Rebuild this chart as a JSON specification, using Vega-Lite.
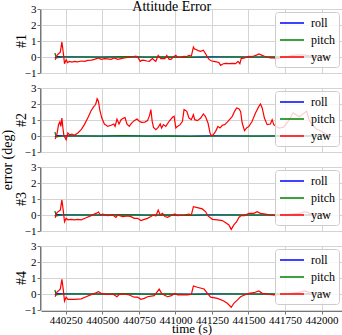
{
"$schema": "https://vega.github.io/schema/vega-lite/v6.json",
"padding": {"left": 0, "top": 0, "right": 1, "bottom": 0},
"title": {"text": "Attitude Error", "fontSize": 14, "font": "Liberation Serif", "fontWeight": "normal", "offset": -11, "anchor": "middle", "color": "#000"},
"data": {"values": [
{"p":"#1","s":"roll","t":440175,"v":-0.05},{"p":"#1","s":"roll","t":440185,"v":0.02},{"p":"#1","s":"roll","t":440230,"v":0.01},{"p":"#1","s":"roll","t":440350,"v":0.0},{"p":"#1","s":"roll","t":440500,"v":0.0},{"p":"#1","s":"roll","t":440650,"v":0.01},{"p":"#1","s":"roll","t":440800,"v":0.0},{"p":"#1","s":"roll","t":440950,"v":0.0},{"p":"#1","s":"roll","t":441100,"v":-0.01},{"p":"#1","s":"roll","t":441250,"v":0.01},{"p":"#1","s":"roll","t":441400,"v":0.0},{"p":"#1","s":"roll","t":441550,"v":0.0},{"p":"#1","s":"roll","t":441700,"v":0.0},{"p":"#1","s":"roll","t":441850,"v":0.01},{"p":"#1","s":"roll","t":442060,"v":0.0},
{"p":"#2","s":"roll","t":440175,"v":-0.05},{"p":"#2","s":"roll","t":440185,"v":0.02},{"p":"#2","s":"roll","t":440230,"v":0.01},{"p":"#2","s":"roll","t":440350,"v":0.0},{"p":"#2","s":"roll","t":440500,"v":0.0},{"p":"#2","s":"roll","t":440650,"v":0.01},{"p":"#2","s":"roll","t":440800,"v":0.0},{"p":"#2","s":"roll","t":440950,"v":0.0},{"p":"#2","s":"roll","t":441100,"v":-0.01},{"p":"#2","s":"roll","t":441250,"v":0.01},{"p":"#2","s":"roll","t":441400,"v":0.0},{"p":"#2","s":"roll","t":441550,"v":0.0},{"p":"#2","s":"roll","t":441700,"v":0.0},{"p":"#2","s":"roll","t":441850,"v":0.01},{"p":"#2","s":"roll","t":442060,"v":0.0},
{"p":"#3","s":"roll","t":440175,"v":-0.05},{"p":"#3","s":"roll","t":440185,"v":0.02},{"p":"#3","s":"roll","t":440230,"v":0.01},{"p":"#3","s":"roll","t":440350,"v":0.0},{"p":"#3","s":"roll","t":440500,"v":0.0},{"p":"#3","s":"roll","t":440650,"v":0.01},{"p":"#3","s":"roll","t":440800,"v":0.0},{"p":"#3","s":"roll","t":440950,"v":0.0},{"p":"#3","s":"roll","t":441100,"v":-0.01},{"p":"#3","s":"roll","t":441250,"v":0.01},{"p":"#3","s":"roll","t":441400,"v":0.0},{"p":"#3","s":"roll","t":441550,"v":0.0},{"p":"#3","s":"roll","t":441700,"v":0.0},{"p":"#3","s":"roll","t":441850,"v":0.01},{"p":"#3","s":"roll","t":442060,"v":0.0},
{"p":"#4","s":"roll","t":440175,"v":-0.05},{"p":"#4","s":"roll","t":440185,"v":0.02},{"p":"#4","s":"roll","t":440230,"v":0.01},{"p":"#4","s":"roll","t":440350,"v":0.0},{"p":"#4","s":"roll","t":440500,"v":0.0},{"p":"#4","s":"roll","t":440650,"v":0.01},{"p":"#4","s":"roll","t":440800,"v":0.0},{"p":"#4","s":"roll","t":440950,"v":0.0},{"p":"#4","s":"roll","t":441100,"v":-0.01},{"p":"#4","s":"roll","t":441250,"v":0.01},{"p":"#4","s":"roll","t":441400,"v":0.0},{"p":"#4","s":"roll","t":441550,"v":0.0},{"p":"#4","s":"roll","t":441700,"v":0.0},{"p":"#4","s":"roll","t":441850,"v":0.01},{"p":"#4","s":"roll","t":442060,"v":0.0},
{"p":"#1","s":"pitch","t":440175,"v":0.25},{"p":"#1","s":"pitch","t":440185,"v":-0.05},{"p":"#1","s":"pitch","t":440230,"v":0.0},{"p":"#1","s":"pitch","t":440350,"v":0.01},{"p":"#1","s":"pitch","t":440500,"v":-0.01},{"p":"#1","s":"pitch","t":440650,"v":0.02},{"p":"#1","s":"pitch","t":440800,"v":-0.01},{"p":"#1","s":"pitch","t":440950,"v":0.01},{"p":"#1","s":"pitch","t":441100,"v":-0.02},{"p":"#1","s":"pitch","t":441250,"v":0.0},{"p":"#1","s":"pitch","t":441400,"v":0.01},{"p":"#1","s":"pitch","t":441550,"v":-0.01},{"p":"#1","s":"pitch","t":441700,"v":0.01},{"p":"#1","s":"pitch","t":441850,"v":0.0},{"p":"#1","s":"pitch","t":442060,"v":-0.01},
{"p":"#2","s":"pitch","t":440175,"v":0.25},{"p":"#2","s":"pitch","t":440185,"v":-0.05},{"p":"#2","s":"pitch","t":440230,"v":0.0},{"p":"#2","s":"pitch","t":440350,"v":0.01},{"p":"#2","s":"pitch","t":440500,"v":-0.01},{"p":"#2","s":"pitch","t":440650,"v":0.02},{"p":"#2","s":"pitch","t":440800,"v":-0.01},{"p":"#2","s":"pitch","t":440950,"v":0.01},{"p":"#2","s":"pitch","t":441100,"v":-0.02},{"p":"#2","s":"pitch","t":441250,"v":0.0},{"p":"#2","s":"pitch","t":441400,"v":0.01},{"p":"#2","s":"pitch","t":441550,"v":-0.01},{"p":"#2","s":"pitch","t":441700,"v":0.01},{"p":"#2","s":"pitch","t":441850,"v":0.0},{"p":"#2","s":"pitch","t":442060,"v":-0.01},
{"p":"#3","s":"pitch","t":440175,"v":0.25},{"p":"#3","s":"pitch","t":440185,"v":-0.05},{"p":"#3","s":"pitch","t":440230,"v":0.0},{"p":"#3","s":"pitch","t":440350,"v":0.01},{"p":"#3","s":"pitch","t":440500,"v":-0.01},{"p":"#3","s":"pitch","t":440650,"v":0.02},{"p":"#3","s":"pitch","t":440800,"v":-0.01},{"p":"#3","s":"pitch","t":440950,"v":0.01},{"p":"#3","s":"pitch","t":441100,"v":-0.02},{"p":"#3","s":"pitch","t":441250,"v":0.0},{"p":"#3","s":"pitch","t":441400,"v":0.01},{"p":"#3","s":"pitch","t":441550,"v":-0.01},{"p":"#3","s":"pitch","t":441700,"v":0.01},{"p":"#3","s":"pitch","t":441850,"v":0.0},{"p":"#3","s":"pitch","t":442060,"v":-0.01},
{"p":"#4","s":"pitch","t":440175,"v":0.25},{"p":"#4","s":"pitch","t":440185,"v":-0.05},{"p":"#4","s":"pitch","t":440230,"v":0.0},{"p":"#4","s":"pitch","t":440350,"v":0.01},{"p":"#4","s":"pitch","t":440500,"v":-0.01},{"p":"#4","s":"pitch","t":440650,"v":0.02},{"p":"#4","s":"pitch","t":440800,"v":-0.01},{"p":"#4","s":"pitch","t":440950,"v":0.01},{"p":"#4","s":"pitch","t":441100,"v":-0.02},{"p":"#4","s":"pitch","t":441250,"v":0.0},{"p":"#4","s":"pitch","t":441400,"v":0.01},{"p":"#4","s":"pitch","t":441550,"v":-0.01},{"p":"#4","s":"pitch","t":441700,"v":0.01},{"p":"#4","s":"pitch","t":441850,"v":0.0},{"p":"#4","s":"pitch","t":442060,"v":-0.01},
{"p":"#1","s":"yaw","t":440177,"v":-0.17},{"p":"#1","s":"yaw","t":440189,"v":0.1},{"p":"#1","s":"yaw","t":440200,"v":0.2},{"p":"#1","s":"yaw","t":440212,"v":0.3},{"p":"#1","s":"yaw","t":440223,"v":0.94},{"p":"#1","s":"yaw","t":440232,"v":0.3},{"p":"#1","s":"yaw","t":440241,"v":-0.42},{"p":"#1","s":"yaw","t":440252,"v":-0.17},{"p":"#1","s":"yaw","t":440262,"v":-0.35},{"p":"#1","s":"yaw","t":440275,"v":-0.27},{"p":"#1","s":"yaw","t":440292,"v":-0.32},{"p":"#1","s":"yaw","t":440309,"v":-0.27},{"p":"#1","s":"yaw","t":440330,"v":-0.3},{"p":"#1","s":"yaw","t":440355,"v":-0.25},{"p":"#1","s":"yaw","t":440378,"v":-0.27},{"p":"#1","s":"yaw","t":440400,"v":-0.21},{"p":"#1","s":"yaw","t":440425,"v":-0.2},{"p":"#1","s":"yaw","t":440446,"v":-0.15},{"p":"#1","s":"yaw","t":440473,"v":-0.06},{"p":"#1","s":"yaw","t":440491,"v":-0.15},{"p":"#1","s":"yaw","t":440514,"v":-0.1},{"p":"#1","s":"yaw","t":440535,"v":-0.12},{"p":"#1","s":"yaw","t":440559,"v":-0.15},{"p":"#1","s":"yaw","t":440582,"v":-0.06},{"p":"#1","s":"yaw","t":440605,"v":-0.15},{"p":"#1","s":"yaw","t":440628,"v":-0.1},{"p":"#1","s":"yaw","t":440650,"v":-0.06},{"p":"#1","s":"yaw","t":440673,"v":-0.03},{"p":"#1","s":"yaw","t":440696,"v":0.0},{"p":"#1","s":"yaw","t":440730,"v":0.06},{"p":"#1","s":"yaw","t":440746,"v":-0.06},{"p":"#1","s":"yaw","t":440759,"v":-0.27},{"p":"#1","s":"yaw","t":440772,"v":-0.2},{"p":"#1","s":"yaw","t":440787,"v":-0.21},{"p":"#1","s":"yaw","t":440805,"v":-0.25},{"p":"#1","s":"yaw","t":440821,"v":-0.27},{"p":"#1","s":"yaw","t":440843,"v":-0.1},{"p":"#1","s":"yaw","t":440855,"v":-0.2},{"p":"#1","s":"yaw","t":440866,"v":-0.27},{"p":"#1","s":"yaw","t":440882,"v":0.1},{"p":"#1","s":"yaw","t":440900,"v":-0.1},{"p":"#1","s":"yaw","t":440928,"v":-0.1},{"p":"#1","s":"yaw","t":440941,"v":0.1},{"p":"#1","s":"yaw","t":440957,"v":-0.15},{"p":"#1","s":"yaw","t":440969,"v":-0.15},{"p":"#1","s":"yaw","t":440985,"v":0.0},{"p":"#1","s":"yaw","t":441003,"v":0.1},{"p":"#1","s":"yaw","t":441014,"v":-0.02},{"p":"#1","s":"yaw","t":441035,"v":0.0},{"p":"#1","s":"yaw","t":441059,"v":0.04},{"p":"#1","s":"yaw","t":441075,"v":0.02},{"p":"#1","s":"yaw","t":441093,"v":0.1},{"p":"#1","s":"yaw","t":441109,"v":0.06},{"p":"#1","s":"yaw","t":441123,"v":0.62},{"p":"#1","s":"yaw","t":441131,"v":0.5},{"p":"#1","s":"yaw","t":441139,"v":0.48},{"p":"#1","s":"yaw","t":441155,"v":0.4},{"p":"#1","s":"yaw","t":441173,"v":0.35},{"p":"#1","s":"yaw","t":441191,"v":0.42},{"p":"#1","s":"yaw","t":441207,"v":0.2},{"p":"#1","s":"yaw","t":441218,"v":0.0},{"p":"#1","s":"yaw","t":441230,"v":-0.15},{"p":"#1","s":"yaw","t":441248,"v":-0.25},{"p":"#1","s":"yaw","t":441264,"v":-0.27},{"p":"#1","s":"yaw","t":441280,"v":-0.3},{"p":"#1","s":"yaw","t":441298,"v":-0.35},{"p":"#1","s":"yaw","t":441309,"v":-0.52},{"p":"#1","s":"yaw","t":441328,"v":-0.42},{"p":"#1","s":"yaw","t":441345,"v":-0.4},{"p":"#1","s":"yaw","t":441366,"v":-0.42},{"p":"#1","s":"yaw","t":441390,"v":-0.4},{"p":"#1","s":"yaw","t":441412,"v":-0.42},{"p":"#1","s":"yaw","t":441428,"v":-0.27},{"p":"#1","s":"yaw","t":441441,"v":-0.42},{"p":"#1","s":"yaw","t":441450,"v":-0.1},{"p":"#1","s":"yaw","t":441473,"v":-0.06},{"p":"#1","s":"yaw","t":441488,"v":0.0},{"p":"#1","s":"yaw","t":441503,"v":0.04},{"p":"#1","s":"yaw","t":441520,"v":0.02},{"p":"#1","s":"yaw","t":441537,"v":0.06},{"p":"#1","s":"yaw","t":441555,"v":0.12},{"p":"#1","s":"yaw","t":441571,"v":0.19},{"p":"#1","s":"yaw","t":441594,"v":0.1},{"p":"#1","s":"yaw","t":441610,"v":0.05},{"p":"#1","s":"yaw","t":441628,"v":0.0},{"p":"#1","s":"yaw","t":441650,"v":-0.05},{"p":"#1","s":"yaw","t":441673,"v":-0.06},{"p":"#1","s":"yaw","t":441700,"v":-0.1},{"p":"#1","s":"yaw","t":441730,"v":-0.02},{"p":"#1","s":"yaw","t":441760,"v":0.0},{"p":"#1","s":"yaw","t":441800,"v":0.1},{"p":"#1","s":"yaw","t":441850,"v":0.14},{"p":"#1","s":"yaw","t":441900,"v":0.1},{"p":"#1","s":"yaw","t":441950,"v":0.02},{"p":"#1","s":"yaw","t":442000,"v":-0.05},{"p":"#1","s":"yaw","t":442060,"v":-0.04},
{"p":"#2","s":"yaw","t":440177,"v":-0.19},{"p":"#2","s":"yaw","t":440189,"v":0.12},{"p":"#2","s":"yaw","t":440200,"v":0.7},{"p":"#2","s":"yaw","t":440209,"v":0.88},{"p":"#2","s":"yaw","t":440216,"v":0.6},{"p":"#2","s":"yaw","t":440223,"v":1.12},{"p":"#2","s":"yaw","t":440230,"v":0.5},{"p":"#2","s":"yaw","t":440237,"v":0.0},{"p":"#2","s":"yaw","t":440246,"v":-0.12},{"p":"#2","s":"yaw","t":440252,"v":-0.23},{"p":"#2","s":"yaw","t":440264,"v":0.19},{"p":"#2","s":"yaw","t":440275,"v":0.08},{"p":"#2","s":"yaw","t":440291,"v":0.12},{"p":"#2","s":"yaw","t":440309,"v":0.04},{"p":"#2","s":"yaw","t":440332,"v":0.19},{"p":"#2","s":"yaw","t":440355,"v":0.4},{"p":"#2","s":"yaw","t":440377,"v":0.71},{"p":"#2","s":"yaw","t":440400,"v":1.12},{"p":"#2","s":"yaw","t":440423,"v":1.58},{"p":"#2","s":"yaw","t":440441,"v":1.83},{"p":"#2","s":"yaw","t":440450,"v":1.92},{"p":"#2","s":"yaw","t":440457,"v":2.06},{"p":"#2","s":"yaw","t":440464,"v":2.33},{"p":"#2","s":"yaw","t":440473,"v":2.17},{"p":"#2","s":"yaw","t":440482,"v":1.65},{"p":"#2","s":"yaw","t":440496,"v":1.12},{"p":"#2","s":"yaw","t":440514,"v":0.75},{"p":"#2","s":"yaw","t":440537,"v":0.6},{"p":"#2","s":"yaw","t":440559,"v":0.67},{"p":"#2","s":"yaw","t":440578,"v":0.75},{"p":"#2","s":"yaw","t":440587,"v":0.6},{"p":"#2","s":"yaw","t":440600,"v":1.06},{"p":"#2","s":"yaw","t":440614,"v":0.75},{"p":"#2","s":"yaw","t":440628,"v":1.02},{"p":"#2","s":"yaw","t":440646,"v":1.12},{"p":"#2","s":"yaw","t":440655,"v":1.15},{"p":"#2","s":"yaw","t":440668,"v":0.75},{"p":"#2","s":"yaw","t":440684,"v":0.6},{"p":"#2","s":"yaw","t":440700,"v":0.81},{"p":"#2","s":"yaw","t":440718,"v":0.96},{"p":"#2","s":"yaw","t":440737,"v":1.06},{"p":"#2","s":"yaw","t":440753,"v":0.92},{"p":"#2","s":"yaw","t":440768,"v":0.85},{"p":"#2","s":"yaw","t":440791,"v":0.87},{"p":"#2","s":"yaw","t":440809,"v":0.96},{"p":"#2","s":"yaw","t":440823,"v":1.29},{"p":"#2","s":"yaw","t":440832,"v":1.65},{"p":"#2","s":"yaw","t":440841,"v":0.92},{"p":"#2","s":"yaw","t":440850,"v":0.54},{"p":"#2","s":"yaw","t":440866,"v":0.4},{"p":"#2","s":"yaw","t":440882,"v":0.54},{"p":"#2","s":"yaw","t":440896,"v":0.75},{"p":"#2","s":"yaw","t":440905,"v":0.5},{"p":"#2","s":"yaw","t":440918,"v":0.71},{"p":"#2","s":"yaw","t":440934,"v":0.6},{"p":"#2","s":"yaw","t":440957,"v":0.92},{"p":"#2","s":"yaw","t":440980,"v":1.17},{"p":"#2","s":"yaw","t":440991,"v":1.23},{"p":"#2","s":"yaw","t":441003,"v":0.5},{"p":"#2","s":"yaw","t":441014,"v":0.6},{"p":"#2","s":"yaw","t":441032,"v":0.71},{"p":"#2","s":"yaw","t":441048,"v":0.92},{"p":"#2","s":"yaw","t":441059,"v":1.65},{"p":"#2","s":"yaw","t":441078,"v":1.54},{"p":"#2","s":"yaw","t":441093,"v":1.12},{"p":"#2","s":"yaw","t":441109,"v":1.02},{"p":"#2","s":"yaw","t":441123,"v":1.33},{"p":"#2","s":"yaw","t":441132,"v":1.02},{"p":"#2","s":"yaw","t":441150,"v":0.96},{"p":"#2","s":"yaw","t":441173,"v":1.12},{"p":"#2","s":"yaw","t":441191,"v":1.38},{"p":"#2","s":"yaw","t":441205,"v":1.23},{"p":"#2","s":"yaw","t":441223,"v":0.81},{"p":"#2","s":"yaw","t":441237,"v":0.19},{"p":"#2","s":"yaw","t":441246,"v":0.02},{"p":"#2","s":"yaw","t":441259,"v":0.08},{"p":"#2","s":"yaw","t":441275,"v":0.29},{"p":"#2","s":"yaw","t":441291,"v":0.6},{"p":"#2","s":"yaw","t":441305,"v":0.5},{"p":"#2","s":"yaw","t":441321,"v":0.67},{"p":"#2","s":"yaw","t":441337,"v":0.71},{"p":"#2","s":"yaw","t":441355,"v":0.87},{"p":"#2","s":"yaw","t":441373,"v":1.06},{"p":"#2","s":"yaw","t":441389,"v":1.23},{"p":"#2","s":"yaw","t":441405,"v":1.54},{"p":"#2","s":"yaw","t":441419,"v":1.75},{"p":"#2","s":"yaw","t":441434,"v":1.71},{"p":"#2","s":"yaw","t":441446,"v":1.54},{"p":"#2","s":"yaw","t":441457,"v":0.81},{"p":"#2","s":"yaw","t":441473,"v":0.33},{"p":"#2","s":"yaw","t":441487,"v":0.5},{"p":"#2","s":"yaw","t":441503,"v":0.6},{"p":"#2","s":"yaw","t":441525,"v":0.92},{"p":"#2","s":"yaw","t":441548,"v":1.44},{"p":"#2","s":"yaw","t":441571,"v":1.85},{"p":"#2","s":"yaw","t":441582,"v":2.0},{"p":"#2","s":"yaw","t":441594,"v":1.75},{"p":"#2","s":"yaw","t":441609,"v":1.12},{"p":"#2","s":"yaw","t":441628,"v":0.71},{"p":"#2","s":"yaw","t":441650,"v":0.75},{"p":"#2","s":"yaw","t":441662,"v":1.02},{"p":"#2","s":"yaw","t":441673,"v":0.71},{"p":"#2","s":"yaw","t":441691,"v":0.6},{"p":"#2","s":"yaw","t":441710,"v":0.5},{"p":"#2","s":"yaw","t":441740,"v":0.55},{"p":"#2","s":"yaw","t":441770,"v":0.9},{"p":"#2","s":"yaw","t":441790,"v":1.2},{"p":"#2","s":"yaw","t":441805,"v":1.45},{"p":"#2","s":"yaw","t":441830,"v":1.3},{"p":"#2","s":"yaw","t":441850,"v":1.2},{"p":"#2","s":"yaw","t":441875,"v":1.4},{"p":"#2","s":"yaw","t":441898,"v":1.55},{"p":"#2","s":"yaw","t":441915,"v":1.0},{"p":"#2","s":"yaw","t":441935,"v":0.7},{"p":"#2","s":"yaw","t":441966,"v":0.42},{"p":"#2","s":"yaw","t":442000,"v":0.3},{"p":"#2","s":"yaw","t":442034,"v":0.1},{"p":"#2","s":"yaw","t":442060,"v":0.05},
{"p":"#3","s":"yaw","t":440177,"v":-0.17},{"p":"#3","s":"yaw","t":440189,"v":0.15},{"p":"#3","s":"yaw","t":440212,"v":0.3},{"p":"#3","s":"yaw","t":440223,"v":0.94},{"p":"#3","s":"yaw","t":440232,"v":0.3},{"p":"#3","s":"yaw","t":440241,"v":-0.42},{"p":"#3","s":"yaw","t":440252,"v":-0.2},{"p":"#3","s":"yaw","t":440264,"v":-0.3},{"p":"#3","s":"yaw","t":440287,"v":-0.27},{"p":"#3","s":"yaw","t":440309,"v":-0.3},{"p":"#3","s":"yaw","t":440332,"v":-0.27},{"p":"#3","s":"yaw","t":440355,"v":-0.3},{"p":"#3","s":"yaw","t":440389,"v":-0.17},{"p":"#3","s":"yaw","t":440423,"v":-0.04},{"p":"#3","s":"yaw","t":440457,"v":0.1},{"p":"#3","s":"yaw","t":440473,"v":0.19},{"p":"#3","s":"yaw","t":440487,"v":0.0},{"p":"#3","s":"yaw","t":440503,"v":0.06},{"p":"#3","s":"yaw","t":440537,"v":-0.04},{"p":"#3","s":"yaw","t":440571,"v":0.0},{"p":"#3","s":"yaw","t":440593,"v":-0.15},{"p":"#3","s":"yaw","t":440605,"v":0.0},{"p":"#3","s":"yaw","t":440639,"v":-0.1},{"p":"#3","s":"yaw","t":440673,"v":-0.06},{"p":"#3","s":"yaw","t":440696,"v":-0.1},{"p":"#3","s":"yaw","t":440718,"v":-0.21},{"p":"#3","s":"yaw","t":440741,"v":-0.21},{"p":"#3","s":"yaw","t":440764,"v":-0.35},{"p":"#3","s":"yaw","t":440787,"v":-0.27},{"p":"#3","s":"yaw","t":440809,"v":-0.21},{"p":"#3","s":"yaw","t":440832,"v":-0.1},{"p":"#3","s":"yaw","t":440850,"v":0.0},{"p":"#3","s":"yaw","t":440866,"v":-0.06},{"p":"#3","s":"yaw","t":440882,"v":0.31},{"p":"#3","s":"yaw","t":440896,"v":0.0},{"p":"#3","s":"yaw","t":440912,"v":0.1},{"p":"#3","s":"yaw","t":440928,"v":-0.1},{"p":"#3","s":"yaw","t":440946,"v":-0.15},{"p":"#3","s":"yaw","t":440964,"v":-0.06},{"p":"#3","s":"yaw","t":440980,"v":0.0},{"p":"#3","s":"yaw","t":440996,"v":0.06},{"p":"#3","s":"yaw","t":441014,"v":-0.04},{"p":"#3","s":"yaw","t":441059,"v":0.0},{"p":"#3","s":"yaw","t":441093,"v":0.06},{"p":"#3","s":"yaw","t":441109,"v":0.0},{"p":"#3","s":"yaw","t":441123,"v":0.52},{"p":"#3","s":"yaw","t":441150,"v":0.46},{"p":"#3","s":"yaw","t":441184,"v":0.38},{"p":"#3","s":"yaw","t":441207,"v":0.2},{"p":"#3","s":"yaw","t":441223,"v":-0.06},{"p":"#3","s":"yaw","t":441253,"v":-0.27},{"p":"#3","s":"yaw","t":441287,"v":-0.3},{"p":"#3","s":"yaw","t":441321,"v":-0.35},{"p":"#3","s":"yaw","t":441344,"v":-0.48},{"p":"#3","s":"yaw","t":441366,"v":-0.62},{"p":"#3","s":"yaw","t":441382,"v":-0.9},{"p":"#3","s":"yaw","t":441400,"v":-0.62},{"p":"#3","s":"yaw","t":441419,"v":-0.42},{"p":"#3","s":"yaw","t":441434,"v":-0.15},{"p":"#3","s":"yaw","t":441450,"v":-0.04},{"p":"#3","s":"yaw","t":441473,"v":-0.04},{"p":"#3","s":"yaw","t":441503,"v":0.1},{"p":"#3","s":"yaw","t":441537,"v":0.1},{"p":"#3","s":"yaw","t":441559,"v":0.21},{"p":"#3","s":"yaw","t":441582,"v":0.1},{"p":"#3","s":"yaw","t":441616,"v":0.06},{"p":"#3","s":"yaw","t":441650,"v":0.0},{"p":"#3","s":"yaw","t":441684,"v":-0.04},{"p":"#3","s":"yaw","t":441720,"v":-0.02},{"p":"#3","s":"yaw","t":441760,"v":0.02},{"p":"#3","s":"yaw","t":441800,"v":0.05},{"p":"#3","s":"yaw","t":441850,"v":0.1},{"p":"#3","s":"yaw","t":441880,"v":0.2},{"p":"#3","s":"yaw","t":441900,"v":0.18},{"p":"#3","s":"yaw","t":441930,"v":0.05},{"p":"#3","s":"yaw","t":441970,"v":0.0},{"p":"#3","s":"yaw","t":442010,"v":-0.02},{"p":"#3","s":"yaw","t":442060,"v":-0.03},
{"p":"#4","s":"yaw","t":440177,"v":-0.17},{"p":"#4","s":"yaw","t":440189,"v":0.12},{"p":"#4","s":"yaw","t":440212,"v":0.3},{"p":"#4","s":"yaw","t":440223,"v":0.92},{"p":"#4","s":"yaw","t":440232,"v":0.3},{"p":"#4","s":"yaw","t":440241,"v":-0.44},{"p":"#4","s":"yaw","t":440252,"v":-0.2},{"p":"#4","s":"yaw","t":440264,"v":-0.33},{"p":"#4","s":"yaw","t":440309,"v":-0.33},{"p":"#4","s":"yaw","t":440355,"v":-0.3},{"p":"#4","s":"yaw","t":440389,"v":-0.17},{"p":"#4","s":"yaw","t":440423,"v":-0.04},{"p":"#4","s":"yaw","t":440457,"v":0.08},{"p":"#4","s":"yaw","t":440473,"v":0.15},{"p":"#4","s":"yaw","t":440491,"v":0.04},{"p":"#4","s":"yaw","t":440537,"v":-0.02},{"p":"#4","s":"yaw","t":440571,"v":0.0},{"p":"#4","s":"yaw","t":440600,"v":-0.17},{"p":"#4","s":"yaw","t":440616,"v":-0.02},{"p":"#4","s":"yaw","t":440650,"v":0.0},{"p":"#4","s":"yaw","t":440684,"v":-0.06},{"p":"#4","s":"yaw","t":440718,"v":-0.2},{"p":"#4","s":"yaw","t":440741,"v":-0.2},{"p":"#4","s":"yaw","t":440764,"v":-0.33},{"p":"#4","s":"yaw","t":440787,"v":-0.27},{"p":"#4","s":"yaw","t":440809,"v":-0.17},{"p":"#4","s":"yaw","t":440855,"v":-0.1},{"p":"#4","s":"yaw","t":440889,"v":0.3},{"p":"#4","s":"yaw","t":440905,"v":0.04},{"p":"#4","s":"yaw","t":440923,"v":-0.06},{"p":"#4","s":"yaw","t":440946,"v":-0.17},{"p":"#4","s":"yaw","t":440973,"v":-0.1},{"p":"#4","s":"yaw","t":440996,"v":0.04},{"p":"#4","s":"yaw","t":441014,"v":-0.06},{"p":"#4","s":"yaw","t":441082,"v":-0.06},{"p":"#4","s":"yaw","t":441109,"v":-0.02},{"p":"#4","s":"yaw","t":441123,"v":0.5},{"p":"#4","s":"yaw","t":441150,"v":0.42},{"p":"#4","s":"yaw","t":441196,"v":0.31},{"p":"#4","s":"yaw","t":441219,"v":0.04},{"p":"#4","s":"yaw","t":441241,"v":-0.2},{"p":"#4","s":"yaw","t":441287,"v":-0.27},{"p":"#4","s":"yaw","t":441328,"v":-0.42},{"p":"#4","s":"yaw","t":441355,"v":-0.58},{"p":"#4","s":"yaw","t":441382,"v":-0.83},{"p":"#4","s":"yaw","t":441400,"v":-0.58},{"p":"#4","s":"yaw","t":441423,"v":-0.38},{"p":"#4","s":"yaw","t":441446,"v":-0.17},{"p":"#4","s":"yaw","t":441473,"v":-0.06},{"p":"#4","s":"yaw","t":441503,"v":0.04},{"p":"#4","s":"yaw","t":441537,"v":0.08},{"p":"#4","s":"yaw","t":441571,"v":0.19},{"p":"#4","s":"yaw","t":441594,"v":0.04},{"p":"#4","s":"yaw","t":441628,"v":0.0},{"p":"#4","s":"yaw","t":441673,"v":-0.06},{"p":"#4","s":"yaw","t":441720,"v":-0.03},{"p":"#4","s":"yaw","t":441760,"v":0.0},{"p":"#4","s":"yaw","t":441800,"v":0.05},{"p":"#4","s":"yaw","t":441850,"v":0.1},{"p":"#4","s":"yaw","t":441880,"v":0.2},{"p":"#4","s":"yaw","t":441900,"v":0.15},{"p":"#4","s":"yaw","t":441930,"v":0.05},{"p":"#4","s":"yaw","t":441970,"v":0.0},{"p":"#4","s":"yaw","t":442010,"v":-0.02},{"p":"#4","s":"yaw","t":442060,"v":-0.03}
]},
"facet": {"row": {"field": "p", "type": "nominal", "title": "error (deg)", "header": {"labelAngle": -90, "labelFont": "Liberation Serif", "labelFontSize": 14, "titleFont": "Liberation Serif", "titleFontSize": 14, "titleFontWeight": "normal", "labelPadding": -12, "titlePadding": -10, "labelColor": "#000", "titleColor": "#000"}}},
"spacing": {"row": 13},
"spec": {
  "width": 301,
  "height": 64,
  "mark": {"type": "line", "strokeWidth": 1.2, "clip": true},
  "encoding": {
    "x": {"field": "t", "type": "quantitative", "scale": {"domain": [440080, 442140], "nice": false, "zero": false},
      "axis": {"values": [440250, 440500, 440750, 441000, 441250, 441500, 441750, 442000], "format": "d", "title": "time (s)"}},
    "y": {"field": "v", "type": "quantitative", "scale": {"domain": [-1, 3], "nice": false, "zero": false},
      "axis": {"values": [-1, 0, 1, 2, 3], "title": null, "minExtent": 0, "labelExpr": "replace(datum.label, '-', '−')"}},
    "color": {"field": "s", "type": "nominal", "scale": {"domain": ["roll", "pitch", "yaw"], "range": ["#0000ff", "#008000", "#ff0000"]},
      "legend": {"title": null, "orient": "top-right", "offset": 3}}
  }
},
"resolve": {"legend": {"color": "independent"}},
"config": {
  "view": {"stroke": "#bbbbbb"},
  "axis": {"labelFont": "Liberation Serif", "titleFont": "Liberation Serif", "labelFontSize": 11, "titleFontSize": 14, "titleFontWeight": "normal", "gridColor": "#d4d4d4", "domainColor": "#777777", "tickColor": "#777777", "tickSize": 3, "labelColor": "#000", "titleColor": "#000", "labelPadding": 1, "minExtent": 0},
  "axisX": {"titlePadding": -3, "labelPadding": 0, "titleFontSize": 13},
  "legend": {"labelFont": "Liberation Serif", "labelFontSize": 12, "symbolType": "M-1,0H3", "symbolSize": 144, "symbolStrokeWidth": 1.5, "strokeColor": "#cccccc", "fillColor": "rgba(255,255,255,0.8)", "cornerRadius": 3, "padding": 4, "rowPadding": 4, "labelOffset": 18, "labelColor": "#000"}
}
}
